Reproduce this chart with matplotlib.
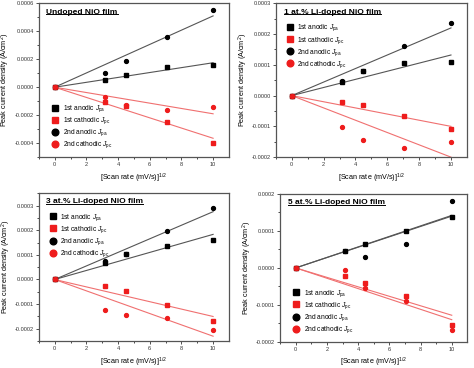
import numpy as np
import matplotlib
matplotlib.use('Agg')
import matplotlib.pyplot as plt
from matplotlib.lines import Line2D

plt.rcParams['font.family'] = ['Liberation Sans', 'DejaVu Sans']
plt.rcParams['mathtext.fontset'] = 'custom'
plt.rcParams['mathtext.it'] = 'Liberation Sans:italic'
plt.rcParams['mathtext.rm'] = 'Liberation Sans'

# square root of scan rate (mV/s)^1/2
scan = [0, 3.16, 4.47, 7.07, 10]

titles = ['Undoped NiO film', '1 at.% Li-doped NiO film',
          '3 at.% Li-doped NiO film', '5 at.% Li-doped NiO film']

# peak current densities (A/cm2), one list per panel
anodic_1 = [
    [0, 0.00005, 0.00009, 0.000145, 0.00016],
    [0, 0.000045, 0.00008, 0.000107, 0.00011],
    [0, 0.000065, 0.000103, 0.000135, 0.00016],
    [0, 0.000045, 0.000065, 0.0001, 0.000138],
]
cathodic_1 = [
    [0, -0.000105, -0.000135, -0.00025, -0.0004],
    [0, -0.000022, -0.000031, -0.000067, -0.00011],
    [0, -0.000027, -0.000047, -0.000103, -0.000168],
    [0, -0.000022, -0.00004, -0.000075, -0.000155],
]
anodic_2 = [
    [0, 0.000105, 0.000185, 0.00036, 0.00055],
    [0, 0.000047, 0.00008, 0.00016, 0.000235],
    [0, 0.000075, 0.000105, 0.000197, 0.00029],
    [0, 0.000045, 0.00003, 0.000064, 0.00018],
]
cathodic_2 = [
    [0, -0.00007, -0.000125, -0.00016, -0.00014],
    [0, -0.000102, -0.000143, -0.00017, -0.000152],
    [0, -0.000123, -0.000142, -0.000155, -0.000203],
    [0, -0.000005, -0.000055, -0.00009, -0.000168],
]

# linear fit values at x = 10
fit_a1 = [0.000175, 0.000132, 0.000183, 0.00014]
fit_c1 = [-0.000365, -0.0001, -0.00015, -0.00014]
fit_a2 = [0.00051, 0.00022, 0.000275, 0.000142]
fit_c2 = [-0.00019, -0.0002, -0.00023, -0.000128]

ylims = [(-0.0005, 0.0006), (-0.0002, 0.0003), (-0.00025, 0.00035), (-0.0002, 0.0002)]
yticks = [np.arange(-0.0004, 0.00061, 0.0002), np.arange(-0.0002, 0.00031, 0.0001),
          np.arange(-0.0002, 0.00031, 0.0001), np.arange(-0.0002, 0.00021, 0.0001)]
legend_loc = ['lower left', 'upper left', 'upper left', 'lower left']

# axes rectangles in figure fractions
rects = [[0.082, 0.573, 0.401, 0.418], [0.582, 0.573, 0.403, 0.418],
         [0.082, 0.073, 0.401, 0.402], [0.591, 0.071, 0.395, 0.402]]

fig = plt.figure(figsize=(4.74, 3.68), dpi=100)

grey_fit = '#555555'
red_fit = '#f07070'
red = '#ee1c1c'

for k in range(4):
    ax = fig.add_axes(rects[k])
    xf = [0, 10]
    ax.plot(xf, [0, fit_a1[k]], color=grey_fit, lw=0.8)
    ax.plot(xf, [0, fit_a2[k]], color=grey_fit, lw=0.8)
    ax.plot(xf, [0, fit_c1[k]], color=red_fit, lw=0.8)
    ax.plot(xf, [0, fit_c2[k]], color=red_fit, lw=0.8)
    ax.plot(scan, anodic_1[k], 's', color='black', ms=2.6)
    ax.plot(scan, cathodic_1[k], 's', color=red, ms=2.6)
    ax.plot(scan, anodic_2[k], 'o', color='black', ms=2.8)
    ax.plot(scan, cathodic_2[k], 'o', color=red, ms=2.8)

    ax.set_xlim(-1, 11)
    ax.set_ylim(*ylims[k])
    ax.set_xticks([0, 2, 4, 6, 8, 10])
    ax.set_xticks(np.arange(-1, 11, 1), minor=True)
    ax.set_yticks(yticks[k])
    ax.set_yticklabels(['%.4f' % v if abs(v) > 1e-12 else '0.0000' for v in yticks[k]])
    ax.tick_params(labelsize=4.1, length=2.5, width=0.6, pad=1.2, colors='#333333')
    ax.tick_params(which='minor', length=1.5, width=0.5)
    ax.yaxis.set_minor_locator(matplotlib.ticker.AutoMinorLocator(2))
    for s in ax.spines.values():
        s.set_color('#555555')
        s.set_linewidth(0.9)
    ax.set_xlabel(r'[Scan rate (mV/s)]$^{1/2}$', fontsize=5.2, labelpad=3)
    ax.set_ylabel(r'Peak current density (A/cm$^2$)', fontsize=5.2, labelpad=1.5)

    t = ax.text(0.04, 0.965, titles[k], transform=ax.transAxes, fontsize=6,
                fontweight='bold', va='top', ha='left')
    fig.canvas.draw()
    bb = t.get_window_extent().transformed(ax.transAxes.inverted())
    ax.plot([bb.x0, bb.x1], [bb.y0 + 0.008, bb.y0 + 0.008], color='black', lw=0.7,
            transform=ax.transAxes, clip_on=False)

    handles = [
        Line2D([], [], marker='s', color='black', ls='none', ms=4.2),
        Line2D([], [], marker='s', color=red, ls='none', ms=4.2),
        Line2D([], [], marker='o', color='black', ls='none', ms=4.8),
        Line2D([], [], marker='o', color=red, ls='none', ms=4.8),
    ]
    labels = [r'1st anodic $J_{\mathrm{pa}}$', r'1st cathodic $J_{\mathrm{pc}}$',
              r'2nd anodic $J_{\mathrm{pa}}$', r'2nd cathodic $J_{\mathrm{pc}}$']
    if legend_loc[k] == 'upper left':
        ax.legend(handles, labels, loc='upper left', bbox_to_anchor=(0.03, 0.9),
                  frameon=False, fontsize=4.8, handletextpad=0.5, labelspacing=0.2,
                  handlelength=1.2, borderaxespad=0.2)
    else:
        ax.legend(handles, labels, loc='lower left', bbox_to_anchor=(0.03, 0.0),
                  frameon=False, fontsize=4.8, handletextpad=0.5, labelspacing=0.2,
                  handlelength=1.2, borderaxespad=0.6)

fig.savefig('out.png', dpi=100)
